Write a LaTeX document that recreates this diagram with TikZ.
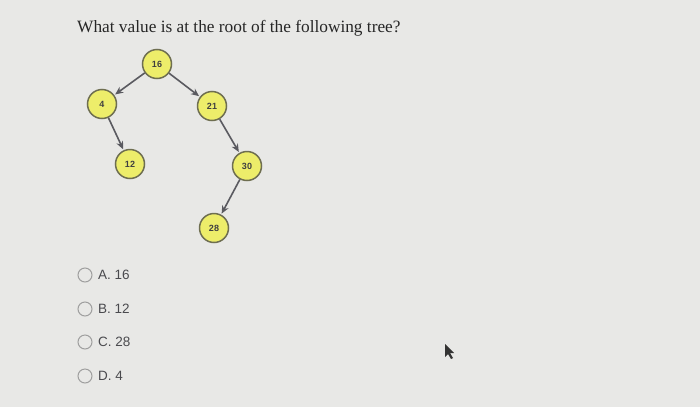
\documentclass[tikz,border=0pt]{standalone}
\usepackage{fontspec}
\setmainfont{Liberation Serif}
\setsansfont{Liberation Sans}
\usetikzlibrary{arrows.meta}
\definecolor{screen}{HTML}{E8E8E6}
\definecolor{nodefill}{HTML}{EDED6A}
\definecolor{nodeline}{HTML}{6E6E50}
\definecolor{edgegray}{HTML}{5A5A60}
\definecolor{optgray}{HTML}{4A4A4E}
\begin{document}
\begin{tikzpicture}[x=1pt,y=-1pt,>={Stealth[length=8pt,width=7pt]},
	treenode/.style={circle,draw=nodeline,line width=1.5pt,fill=nodefill,minimum size=29pt,inner sep=0pt,font=\sffamily\bfseries\fontsize{9}{9}\selectfont,text=black!75},
	edge/.style={->,draw=edgegray,line width=1.6pt,shorten >=1pt},
	radio/.style={circle,draw=gray!75,line width=1pt,minimum size=14pt,inner sep=0pt},
	answer/.style={right,font=\sffamily\fontsize{13.5}{13.5}\selectfont,text=optgray,inner sep=0pt}]
	%background
	\fill[screen] (0,0) rectangle (700,407);
	\useasboundingbox (0,0) rectangle (700,407);

	%question
	\node[anchor=base west,inner sep=0pt,font=\fontsize{17.3}{17.3}\selectfont,text=black!85] (question) at (77,32) {What value is at the root of the following tree?}; %title

	%tree nodes
	\node[treenode] (n16) at (157,64) {16}; %root
	\node[treenode] (n4) at (102,104) {4}; %left child
	\node[treenode] (n21) at (212,106) {21}; %right child
	\node[treenode] (n12) at (130,164) {12}; %right of 4
	\node[treenode] (n30) at (247,166) {30}; %right of 21
	\node[treenode] (n28) at (214,228) {28}; %left of 30

	%edges
	\draw[edge] (n16) -- (n4);
	\draw[edge] (n16) -- (n21);
	\draw[edge] (n4) -- (n12);
	\draw[edge] (n21) -- (n30);
	\draw[edge] (n30) -- (n28);

	%options
	\node[radio] (ra) at (85,275) {}; \node[answer] (la) at (98,275) {A. 16}; %option A
	\node[radio] (rb) at (85,309) {}; \node[answer] (lb) at (98,309) {B. 12}; %option B
	\node[radio] (rc) at (85,342) {}; \node[answer] (lc) at (98,342) {C. 28}; %option C
	\node[radio] (rd) at (85,376) {}; \node[answer] (ld) at (98,376) {D. 4}; %option D

	%mouse pointer
	\fill[black!80] (445,344) -- (445,357) -- (448,354) -- (451,359) -- (453,358) -- (450,353) -- (454,353) -- cycle;
\end{tikzpicture}
\end{document}
